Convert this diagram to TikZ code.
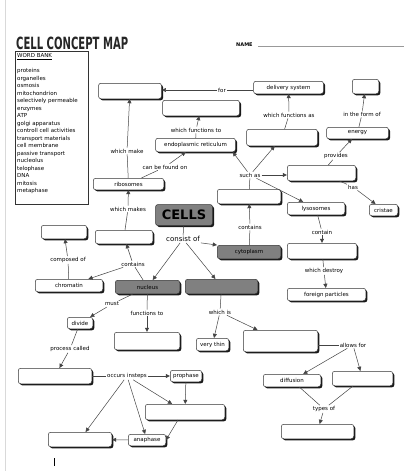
\documentclass[tikz,border=0pt]{standalone}
\usepackage{fontspec}
\setmainfont{DejaVu Sans}
\newfontfamily\condfont{DejaVu Sans Condensed}
\usepackage{graphicx}
\usetikzlibrary{positioning,arrows.meta,shadows,calc}
\definecolor{cgray}{HTML}{808080}
\definecolor{cline}{HTML}{444444}
\definecolor{cedge}{HTML}{333333}

\begin{document}
\begin{tikzpicture}[x=1pt, y=-1pt, font=\fontsize{5.5}{6.5}\selectfont,
  cbox/.style={draw=cedge, line width=0.5pt, fill=white, rounded corners=2.5pt, inner sep=0pt,
    drop shadow={shadow xshift=1.6pt, shadow yshift=-1.6pt, fill=black, opacity=0.9}},
  gbox/.style={cbox, fill=cgray},
  lnk/.style={inner sep=1pt},
  ln/.style={draw=cline, line width=0.5pt},
  arr/.style={ln, -{Triangle[length=4.2pt, width=4pt]}}]
\useasboundingbox[fill=white] (0,0) rectangle (408,471);
\draw[gray!30, line width=0.6pt] (5,0) -- (5,471);
% heading
\node[anchor=west, inner sep=0pt, text=black!85] (title) at (16,43.5) {\resizebox{112pt}{12.5pt}{\condfont\bfseries CELL CONCEPT MAP}};
\node[anchor=west, inner sep=0pt, font=\fontsize{5}{6}\selectfont\bfseries] (name) at (236,44.5) {NAME};
\coordinate (namestart) at (258,46.5);
\coordinate (nameend) at (404,46.5);
\draw[gray!80, line width=0.5pt] (namestart) -- (nameend);
% word bank
\node[draw=cedge, line width=0.5pt, anchor=north west, minimum width=73pt, minimum height=153pt, inner sep=0pt] (bank) at (15,51) {};
\node[anchor=north west, align=left, inner sep=0pt, font=\fontsize{5.5}{7.5}\selectfont] (words) at (17,53)
  {\underline{WORD BANK}\\[8pt] proteins\\ organelles\\ osmosis\\ mitochondrion\\ selectively permeable\\ enzymes\\ ATP\\
   golgi apparatus\\ controll cell activities\\ transport materials\\ cell membrane\\ passive transport\\ nucleolus\\
   telophase\\ DNA\\ mitosis\\ metaphase};
% concept boxes
\node[gbox, minimum width=57pt, minimum height=21pt, font=\fontsize{13}{13}\selectfont\bfseries] (cells) at (184,215) {CELLS};
\node[cbox, minimum width=63pt, minimum height=15.5pt] (prot) at (130,91) {};
\node[cbox, minimum width=77pt, minimum height=15.5pt] (transp) at (201,108) {};
\node[cbox, minimum width=80pt, minimum height=13.5pt] (er) at (195.5,145) {endoplasmic reticulum};
\node[cbox, minimum width=70pt, minimum height=12.5pt] (deliv) at (288.5,87.5) {delivery system};
\node[cbox, minimum width=71pt, minimum height=16.5pt] (golgi) at (282,137.5) {};
\node[cbox, minimum width=26.5pt, minimum height=14.5pt] (atp) at (365.5,86.5) {};
\node[cbox, minimum width=62pt, minimum height=11.5pt] (energy) at (357.5,133) {energy};
\node[cbox, minimum width=68.5pt, minimum height=15.5pt] (mito) at (321.5,173) {};
\node[cbox, minimum width=63.5pt, minimum height=14.5pt] (organ) at (249,196.5) {};
\node[cbox, minimum width=57.5pt, minimum height=12.5pt] (lyso) at (316,208.5) {lysosomes};
\node[cbox, minimum width=28.5pt, minimum height=11.5pt] (cristae) at (383.5,210) {cristae};
\node[cbox, minimum width=69.5pt, minimum height=15.5pt] (enzym) at (322,251) {};
\node[cbox, minimum width=78.5pt, minimum height=12.5pt] (foreign) at (326.5,294.5) {foreign particles};
\node[gbox, minimum width=63.5pt, minimum height=13.5pt] (cyto) at (249,252) {cytoplasm};
\node[gbox, minimum width=72.5pt, minimum height=14.5pt] (cellmem) at (221.5,286.5) {};
\node[cbox, minimum width=32.5pt, minimum height=12.5pt] (thin) at (212.5,344.5) {very thin};
\node[cbox, minimum width=74.5pt, minimum height=21.5pt] (membr) at (280.5,341) {};
\node[cbox, minimum width=57.5pt, minimum height=12.5pt] (diffu) at (292,380.5) {diffusion};
\node[cbox, minimum width=60.5pt, minimum height=14.5pt] (osmo) at (362.5,378.5) {};
\node[cbox, minimum width=72.5pt, minimum height=14.5pt] (passive) at (317.5,431.5) {};
\node[gbox, minimum width=64.5pt, minimum height=13.5pt] (nucleus) at (147.5,287) {nucleus};
\node[cbox, minimum width=67.5pt, minimum height=12.5pt] (chrom) at (69,285.5) {chromatin};
\node[cbox, minimum width=45.5pt, minimum height=13.5pt] (dna) at (64,232) {};
\node[cbox, minimum width=57.5pt, minimum height=13.5pt] (nucleol) at (124,237) {};
\node[cbox, minimum width=70.5pt, minimum height=11.5pt] (ribo) at (128.5,184) {ribosomes};
\node[cbox, minimum width=25.5pt, minimum height=11.5pt] (divide) at (80,323) {divide};
\node[cbox, minimum width=65.5pt, minimum height=17.5pt] (control) at (147,341) {};
\node[cbox, minimum width=73.5pt, minimum height=15.5pt] (mitosis) at (55,376) {};
\node[cbox, minimum width=31.5pt, minimum height=11.5pt] (prophase) at (186,376) {prophase};
\node[cbox, minimum width=79.5pt, minimum height=15.5pt] (metaph) at (185,412) {};
\node[cbox, minimum width=63.5pt, minimum height=14.5pt] (teloph) at (80,439.5) {};
\node[cbox, minimum width=37.5pt, minimum height=11.5pt] (anaph) at (147,440) {anaphase};
% linking phrases
\node[lnk] (lmake) at (127,151) {which make};
\node[lnk] (lfor) at (222,90) {for};
\node[lnk] (lwft) at (196,130) {which functions to};
\node[lnk] (lwfas) at (289,115) {which functions as};
\node[lnk] (lform) at (362,114) {in the form of};
\node[lnk] (lprov) at (336,156) {provides};
\node[lnk] (lsuch) at (250,175) {such as};
\node[lnk] (lhas) at (353,187) {has};
\node[lnk] (lcontain) at (322,232) {contain};
\node[lnk] (ldestroy) at (324,271) {which destroy};
\node[lnk] (lcontcy) at (250,227) {contains};
\node[lnk, font=\fontsize{7}{8}\selectfont] (lconsist) at (183,239) {consist of};
\node[lnk] (lcontnu) at (133,264) {contains};
\node[lnk] (lcomp) at (68,260) {composed of};
\node[lnk] (lmakes) at (128,209) {which makes};
\node[lnk] (lfound) at (165,167) {can be found on};
\node[lnk] (lmust) at (112,304) {must};
\node[lnk] (lfunc) at (147,313) {functions to};
\node[lnk] (lwhich) at (220,312) {which is};
\node[lnk] (lallow) at (353,345) {allows for};
\node[lnk] (ltypes) at (324,409) {types of};
\node[lnk] (lproc) at (70,349) {process called};
\node[lnk] (loccurs) at (127,376) {occurs insteps};
% connectors
\draw[ln] (ribo) -- (lmake); \draw[arr] (lmake) -- (prot);
\draw[ln] (lfor) -- (lfor -| deliv.west); \draw[arr] (lfor) -- (lfor -| prot.east);
\draw[ln] (er) -- (lwft); \draw[arr] (lwft) -- (transp);
\draw[ln] (golgi) -- (lwfas); \draw[arr] (lwfas) -- (deliv);
\draw[ln] (energy) -- (lform); \draw[arr] (lform) -- (atp);
\draw[ln] (mito) -- (lprov); \draw[arr] (lprov) -- (energy);
\draw[ln] (organ) -- (lsuch);
\draw[arr] (lsuch) -- ($(er.south east)+(-3,0)$);
\draw[arr] (lsuch) -- (golgi);
\draw[arr] (lsuch) -- (lsuch -| mito.west);
\draw[arr] (lsuch) -- (lyso);
\draw[ln] (mito) -- (lhas); \draw[arr] (lhas) -- (cristae);
\draw[ln] (lyso) -- (lcontain); \draw[arr] (lcontain) -- (enzym);
\draw[ln] (enzym) -- (ldestroy); \draw[arr] (ldestroy) -- (foreign);
\draw[ln] (cyto) -- (lcontcy); \draw[arr] (lcontcy) -- (organ);
\draw[ln] (cells) -- (lconsist);
\draw[arr] (lconsist.south east) -- (cyto.north west);
\draw[arr] (lconsist) -- (nucleus);
\draw[arr] (lconsist) -- (cellmem);
\draw[ln] (nucleus) -- (lcontnu);
\draw[arr] (lcontnu) -- (nucleol);
\draw[arr] (lcontnu) -- (chrom);
\draw[ln] (chrom) -- (lcomp); \draw[arr] (lcomp) -- (dna);
\draw[ln] (nucleol) -- (lmakes); \draw[arr] (lmakes) -- (ribo);
\draw[ln] (ribo) -- (lfound); \draw[arr] (lfound) -- (er);
\draw[ln] (nucleus) -- (lmust); \draw[arr] (lmust) -- (divide);
\draw[ln] (nucleus) -- (lfunc); \draw[arr] (lfunc) -- (control);
\draw[ln] (cellmem) -- (lwhich);
\draw[arr] (lwhich) -- (thin);
\draw[arr] (lwhich) -- (membr);
\draw[ln] (lallow -| membr.east) -- (lallow);
\draw[arr] (lallow) -- (diffu);
\draw[arr] (lallow) -- (osmo);
\draw[ln] (diffu) -- (ltypes);
\draw[ln] (osmo) -- (ltypes);
\draw[arr] (ltypes) -- (passive);
\draw[ln] (divide) -- (lproc); \draw[arr] (lproc) -- (mitosis);
\draw[ln] (loccurs -| mitosis.east) -- (loccurs);
\draw[arr] (loccurs) -- (loccurs -| prophase.west);
\draw[arr] (loccurs) -- (metaph);
\draw[arr] (loccurs) -- (anaph);
\draw[arr] (loccurs) -- (teloph);
\draw[arr] (prophase) -- (metaph);
\draw[arr] ($(metaph.south)+(-7,0)$) -- (anaph.east);
\draw[arr] (anaph) -- (teloph);
% text cursor
\draw[line width=0.6pt] (54,458) -- (54,466);
\end{tikzpicture}
\end{document}
